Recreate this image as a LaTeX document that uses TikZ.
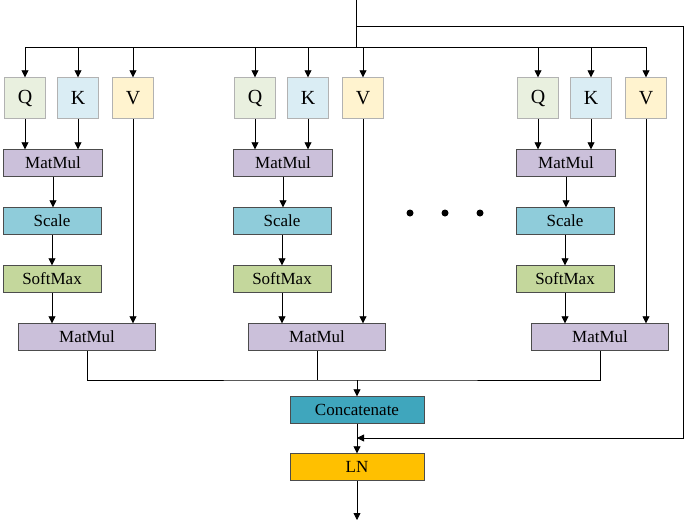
\documentclass[tikz,border=0pt]{standalone}
\usepackage{fontspec}
\setmainfont{Liberation Serif}
\usetikzlibrary{arrows.meta}
\tikzset{
  box/.style={rectangle, draw=black!70, minimum height=27pt, inner sep=0pt, font=\fontsize{17}{17}\selectfont},
  qkv/.style={rectangle, draw=black!30, minimum width=41pt, minimum height=41pt, inner sep=0pt, font=\fontsize{20}{20}\selectfont},
  line/.style={draw, thick, -{Triangle[length=7pt,width=7pt]}}
}
\definecolor{qcol}{HTML}{E9F0DF}
\definecolor{kcol}{HTML}{DAEDF4}
\definecolor{vcol}{HTML}{FFF3CF}
\definecolor{mmcol}{HTML}{CBC0DA}
\definecolor{sccol}{HTML}{8FCCDA}
\definecolor{smcol}{HTML}{C4D79C}
\definecolor{cccol}{HTML}{3FA6BD}
\definecolor{lncol}{HTML}{FFC000}
\begin{document}
\begin{tikzpicture}[x=1pt, y=-1pt]
  \useasboundingbox (0,0) rectangle (685,522);
  % Input
  \coordinate (in) at (356,0);
  \coordinate (split) at (356,47);
  \coordinate (res) at (356,26);
  \draw[thick] (in) -- (split);
  % Heads
  \foreach \o/\h in {0/a,230/b,513/c} {
    \node [qkv, fill=qcol] (q\h) at (25+\o,98) {Q};
    \node [qkv, fill=kcol] (k\h) at (78+\o,98) {K};
    \node [qkv, fill=vcol] (v\h) at (133+\o,98) {V};
    \node [box, fill=mmcol, minimum width=99pt] (mm\h) at (53+\o,163) {MatMul};
    \node [box, fill=sccol, minimum width=98pt] (sc\h) at (52+\o,221) {Scale};
    \node [box, fill=smcol, minimum width=98pt] (sm\h) at (52+\o,279) {SoftMax};
    \node [box, fill=mmcol, minimum width=137pt] (out\h) at (87+\o,337) {MatMul};
    \foreach \n in {q,k,v}
      \path [line] (\n\h |- split) -- (\n\h);
    \path [line] (q\h) -- (q\h |- mm\h.north);
    \path [line] (k\h) -- (k\h |- mm\h.north);
    \path [line] (mm\h) -- (mm\h |- sc\h.north);
    \path [line] (sc\h) -- (sc\h |- sm\h.north);
    \path [line] (sm\h) -- (sm\h |- out\h.north);
    \path [line] (v\h) -- (v\h |- out\h.north);
  }
  \draw[thick] (qa |- split) -- (vc |- split);
  % Dots
  \foreach \x in {410,445,480}
    \fill (\x,213) circle (3.5pt);
  % Concatenate and LN
  \node [box, fill=cccol, minimum width=134pt] (cat) at (357,410) {Concatenate};
  \node [box, fill=lncol, minimum width=134pt] (ln) at (357,467) {LN};
  \coordinate (join) at (357,380);
  \coordinate (end) at (357,520);
  \draw[thick] (outa) |- (join) -| (outc);
  \draw[thick] (outb) -- (outb |- join);
  \path [line] (join) -- (cat);
  \path [line] (cat) -- (ln);
  \path [line] (ln) -- (end);
  % Residual
  \path [line] (res) -- (683,26) -- (683,438) -- (cat.south |- 0,438);
\end{tikzpicture}
\end{document}
